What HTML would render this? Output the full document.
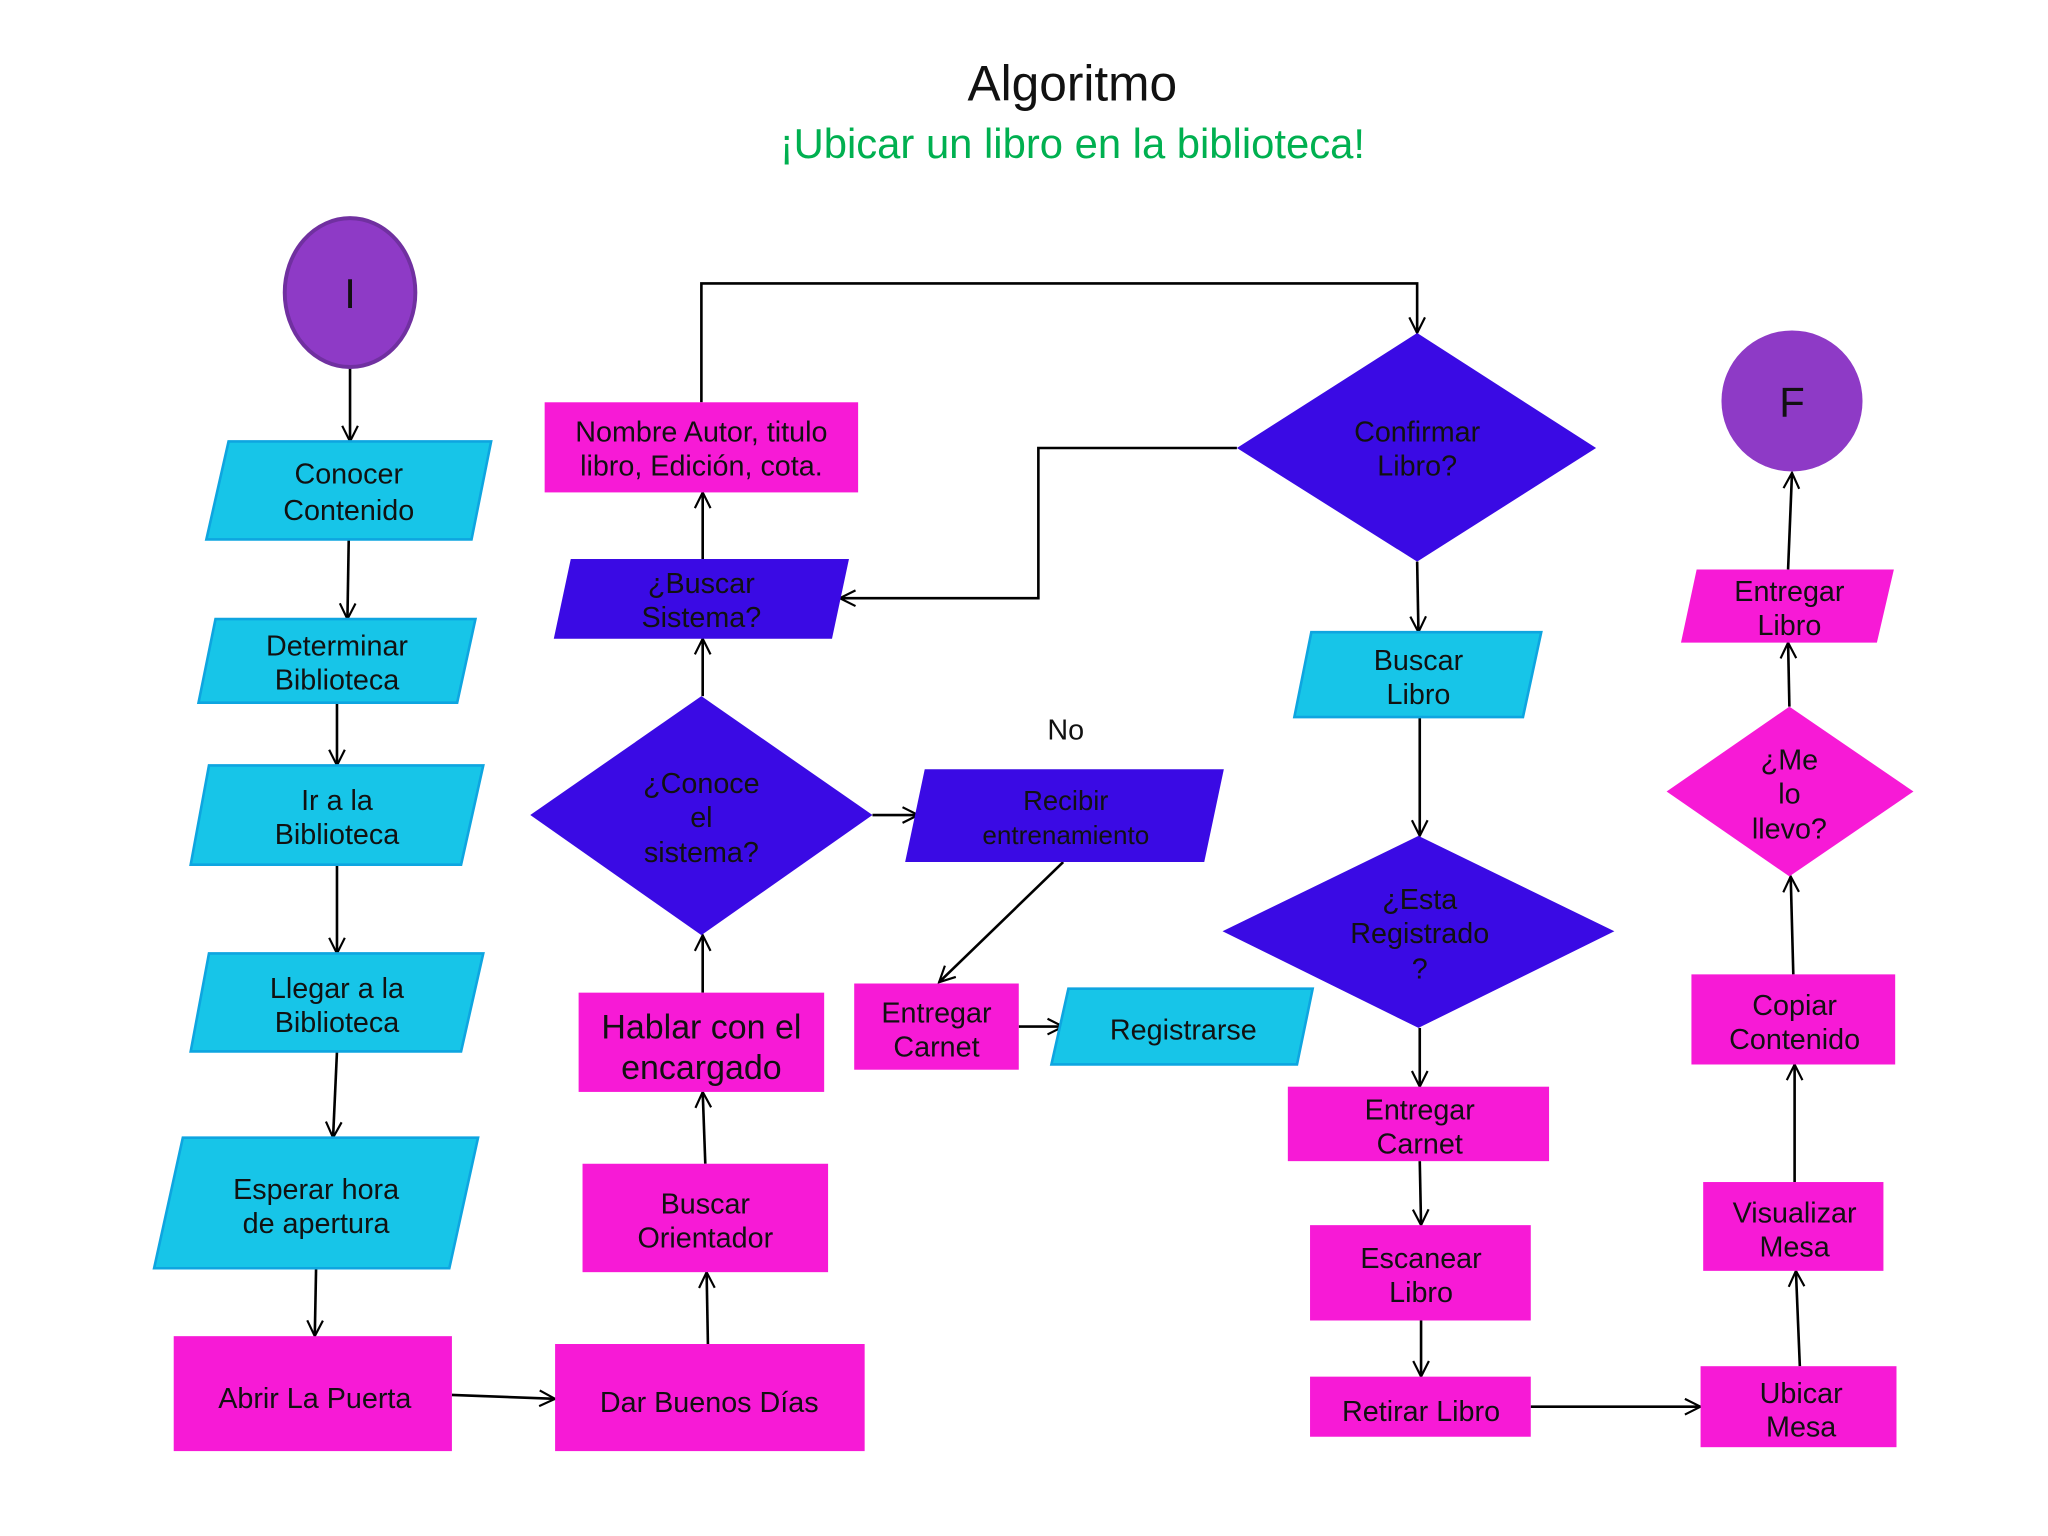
<!DOCTYPE html>
<html><head><meta charset="utf-8"><style>
html,body{margin:0;padding:0;background:#fff}
svg{display:block}
text{font-family:"Liberation Sans",sans-serif;fill:#111;text-anchor:middle}
</style></head><body>
<svg width="2048" height="1536" viewBox="0 0 1568 1176" preserveAspectRatio="none" xmlns="http://www.w3.org/2000/svg">
<defs>
<marker id="a" viewBox="0 0 20 20" refX="18" refY="10" markerWidth="15" markerHeight="15" markerUnits="userSpaceOnUse" orient="auto">
<path d="M2,2 L18,10 L2,18" fill="none" stroke="#000" stroke-width="2.2"/>
</marker>
</defs>
<rect width="1568" height="1176" fill="#fff"/>
<text x="821" y="77" font-size="38">Algoritmo</text>
<text x="821" y="121" font-size="32" style="fill:#00b050">¡Ubicar un libro en la biblioteca!</text>

<g stroke="#000" stroke-width="2" fill="none" marker-end="url(#a)">
<line x1="268" y1="281" x2="268" y2="338"/>
<line x1="267" y1="413" x2="266" y2="474"/>
<line x1="258" y1="538" x2="258" y2="586"/>
<line x1="258" y1="662" x2="258" y2="730"/>
<line x1="258" y1="805" x2="255" y2="871"/>
<line x1="242" y1="971" x2="241" y2="1023"/>
<line x1="346" y1="1068" x2="425" y2="1071"/>
<line x1="542" y1="1029" x2="541" y2="974"/>
<line x1="540" y1="891" x2="538" y2="836"/>
<line x1="538" y1="760" x2="538" y2="716"/>
<line x1="538" y1="533" x2="538" y2="489"/>
<line x1="538" y1="428" x2="538" y2="377"/>
<polyline points="537,308 537,217 1085,217 1085,255"/>
<polyline points="947,343 795,343 795,458 643,458"/>
<line x1="1085" y1="430" x2="1086" y2="484"/>
<line x1="1087" y1="549" x2="1087" y2="640"/>
<line x1="1087" y1="787" x2="1087" y2="832"/>
<line x1="1087" y1="889" x2="1088" y2="938"/>
<line x1="1088" y1="1011" x2="1088" y2="1054"/>
<line x1="1172" y1="1077" x2="1302" y2="1077"/>
<line x1="1378" y1="1046" x2="1375" y2="973"/>
<line x1="1374" y1="905" x2="1374" y2="815"/>
<line x1="1373" y1="746" x2="1371" y2="671"/>
<line x1="1370" y1="541" x2="1369" y2="492"/>
<line x1="1369" y1="436" x2="1372" y2="362"/>
<line x1="668" y1="624" x2="703" y2="624"/>
<line x1="814" y1="660" x2="719" y2="752"/>
<line x1="780" y1="786" x2="814" y2="786"/>
</g>

<ellipse cx="268" cy="224" rx="50" ry="57" fill="#8e3ac6" stroke="#7030a0" stroke-width="3"/>
<text x="268" y="236" font-size="32">I</text>
<circle cx="1372" cy="307" r="54" fill="#8e3ac6"/>
<text x="1372" y="319" font-size="32">F</text>

<g fill="#17c5e8" stroke="#0ea5e0" stroke-width="2">
<polygon points="175,338 376,338 361,413 158,413"/>
<polygon points="165,474 364,474 350,538 152,538"/>
<polygon points="160,586 370,586 353,662 146,662"/>
<polygon points="160,730 370,730 353,805 146,805"/>
<polygon points="140,871 366,871 344,971 118,971"/>
<polygon points="1004,484 1180,484 1166,549 991,549"/>
<polygon points="818,757 1005,757 993,815 805,815"/>
</g>
<g fill="#3a0ae4">
<polygon points="437,428 650,428 637,489 424,489"/>
<polygon points="708,589 937,589 922,660 693,660"/>
<polygon points="537,533 668,624 537,716 406,624"/>
<polygon points="1085,255 1222,343 1085,430 947,343"/>
<polygon points="1086,640 1236,713 1086,787 936,713"/>
</g>
<g fill="#f71ad6">
<rect x="417" y="308" width="240" height="69"/>
<rect x="443" y="760" width="188" height="76"/>
<rect x="446" y="891" width="188" height="83"/>
<rect x="133" y="1023" width="213" height="88"/>
<rect x="425" y="1029" width="237" height="82"/>
<rect x="654" y="753" width="126" height="66"/>
<rect x="986" y="832" width="200" height="57"/>
<rect x="1003" y="938" width="169" height="73"/>
<rect x="1003" y="1054" width="169" height="46"/>
<rect x="1302" y="1046" width="150" height="62"/>
<rect x="1304" y="905" width="138" height="68"/>
<rect x="1295" y="746" width="156" height="69"/>
<polygon points="1299,436 1450,436 1437,492 1287,492"/>
<polygon points="1370,541 1465,606 1370,671 1276,606"/>
</g>

<g font-size="22">
<text x="267" y="370">Conocer</text><text x="267" y="398">Contenido</text>
<text x="258" y="502">Determinar</text><text x="258" y="528">Biblioteca</text>
<text x="258" y="620">Ir a la</text><text x="258" y="646">Biblioteca</text>
<text x="258" y="764">Llegar a la</text><text x="258" y="790">Biblioteca</text>
<text x="242" y="918">Esperar hora</text><text x="242" y="944">de apertura</text>
<text x="241" y="1078">Abrir La Puerta</text>
<text x="543" y="1081">Dar Buenos Días</text>
<text x="540" y="929">Buscar</text><text x="540" y="955">Orientador</text>
<text x="537" y="795" font-size="26">Hablar con el</text><text x="537" y="826" font-size="26">encargado</text>
<text x="537" y="338">Nombre Autor, titulo</text><text x="537" y="364">libro, Edición, cota.</text>
<text x="537" y="454">¿Buscar</text><text x="537" y="480">Sistema?</text>
<text x="537" y="607">¿Conoce</text><text x="537" y="633">el</text><text x="537" y="660">sistema?</text>
<text x="816" y="566">No</text>
<text x="816" y="620" font-size="21">Recibir</text><text x="816" y="646" font-size="20">entrenamiento</text>
<text x="717" y="783">Entregar</text><text x="717" y="809">Carnet</text>
<text x="906" y="796">Registrarse</text>
<text x="1085" y="338">Confirmar</text><text x="1085" y="364">Libro?</text>
<text x="1086" y="513">Buscar</text><text x="1086" y="539">Libro</text>
<text x="1087" y="696">¿Esta</text><text x="1087" y="722">Registrado</text><text x="1087" y="749">?</text>
<text x="1087" y="857">Entregar</text><text x="1087" y="883">Carnet</text>
<text x="1088" y="971">Escanear</text><text x="1088" y="997">Libro</text>
<text x="1088" y="1088">Retirar Libro</text>
<text x="1379" y="1074">Ubicar</text><text x="1379" y="1100">Mesa</text>
<text x="1374" y="936">Visualizar</text><text x="1374" y="962">Mesa</text>
<text x="1374" y="777">Copiar</text><text x="1374" y="803">Contenido</text>
<text x="1370" y="589">¿Me</text><text x="1370" y="615">lo</text><text x="1370" y="642">llevo?</text>
<text x="1370" y="460">Entregar</text><text x="1370" y="486">Libro</text>
</g>
</svg>
</body></html>
